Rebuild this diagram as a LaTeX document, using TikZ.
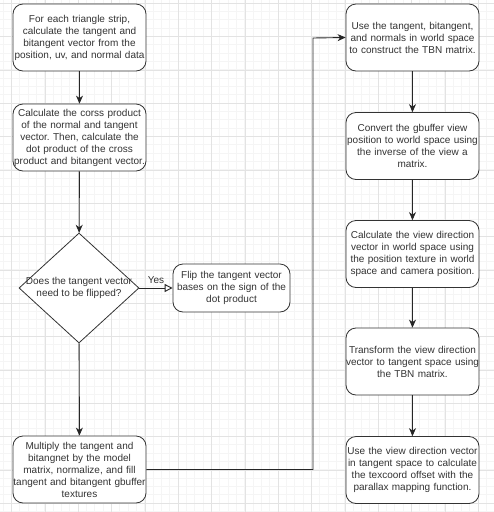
\documentclass[tikz,border=0pt]{standalone}
\usepackage{fontspec}
\setmainfont{Liberation Sans}
\usetikzlibrary{arrows.meta,shapes.geometric}
\hyphenpenalty=10000
\frenchspacing
\tikzset{
  stepbox/.style={draw=black!80, line width=0.8pt, rounded corners=10pt, fill=white,
    minimum width=133pt, minimum height=67pt, text width=141pt, inner xsep=-4pt, inner ysep=1pt,
    align=center, text=black!80, font=\fontsize{10}{12}\selectfont},
  flipbox/.style={stepbox, minimum width=117pt, minimum height=48pt, text width=125pt},
  decision/.style={draw=black!80, line width=0.8pt, diamond, fill=white, aspect=1.09,
    minimum width=120pt, minimum height=110pt, inner sep=0pt},
  qtext/.style={align=center, text=black!80, inner sep=0pt, font=\fontsize{10}{12}\selectfont},
  arrow/.style={draw=black!85, line width=0.9pt, -{Stealth[length=8pt,width=7pt,inset=2.5pt]}},
  openarrow/.style={draw=black!85, line width=0.9pt, -{Triangle[open,length=8pt,width=8pt]}},
}
\begin{document}
\begin{tikzpicture}[x=1pt,y=-1pt]
  \useasboundingbox (0,0) rectangle (494,512);
  \fill[white] (0,0) rectangle (494,512);

  % grid
  \foreach \i in {0,...,59} {
    \draw[gray!8, line width=1pt] ({3.33+\i*8.333},0) -- ++(0,512);
  }
  \foreach \i in {0,...,61} {
    \draw[gray!8, line width=1pt] (0,{3.33+\i*8.333}) -- ++(494,0);
  }
  \foreach \i in {0,...,14} {
    \draw[gray!22, line width=0.8pt] ({11.67+\i*33.333},0) -- ++(0,512);
  }
  \foreach \i in {0,...,15} {
    \draw[gray!22, line width=0.8pt] (0,{3.33+\i*33.333}) -- ++(494,0);
  }

  % left column
  \node[stepbox] (strip) at (79.5,37.5) {For each triangle strip,\\ calculate the tangent and\\ bitangent vector from the\\ position, uv, and normal data};
  \node[stepbox] (cross) at (79.5,137.5) {Calculate the corss product\\ of the normal and tangent\\ vector. Then, calculate the\\ dot product of the cross\\ product and bitangent vector.};
  \node[decision] (flipq) at (79,288) {};
  \node[qtext] (flipqtext) at (flipq.center) {Does the tangent vector\\ need to be flipped?};
  \node[flipbox] (flip) at (231.5,288) {Flip the tangent vector\\ bases on the sign of the\\ dot product};
  \node[stepbox] (mult) at (79.5,469.5) {Multiply the tangent and\\ bitangnet by the model\\ matrix, normalize, and fill\\ tangent and bitangent gbuffer\\ textures};

  % right column
  \node[stepbox] (tbn) at (412.5,37.5) {Use the tangent, bitangent,\\ and normals in world space\\ to construct the TBN matrix.};
  \node[stepbox] (world) at (412.5,146) {Convert the gbuffer view\\ position to world space using\\ the inverse of the view a\\ matrix.};
  \node[stepbox] (viewdir) at (412.5,254) {Calculate the view direction\\ vector in world space using\\ the position texture in world\\ space and camera position.};
  \node[stepbox] (tangentspace) at (412.5,361.5) {Transform the view direction\\ vector to tangent space using\\ the TBN matrix.};
  \node[stepbox] (parallax) at (412.5,470) {Use the view direction vector\\ in tangent space to calculate\\ the texcoord offset with the\\ parallax mapping function.};

  \coordinate (turn) at (313,38);

  \draw[arrow] (strip) -- (cross);
  \draw[arrow] (cross) -- (flipq);
  \draw[openarrow] (flipq.east) -- node[qtext, above=4pt] (yes) {Yes} (flip.west);
  \draw[arrow] (flipq) -- (mult);
  \draw[arrow] (mult.east) -| (turn) -- (tbn.west);
  \draw[arrow] (tbn) -- (world);
  \draw[arrow] (world) -- (viewdir);
  \draw[arrow] (viewdir) -- (tangentspace);
  \draw[arrow] (tangentspace) -- (parallax);
\end{tikzpicture}
\end{document}
